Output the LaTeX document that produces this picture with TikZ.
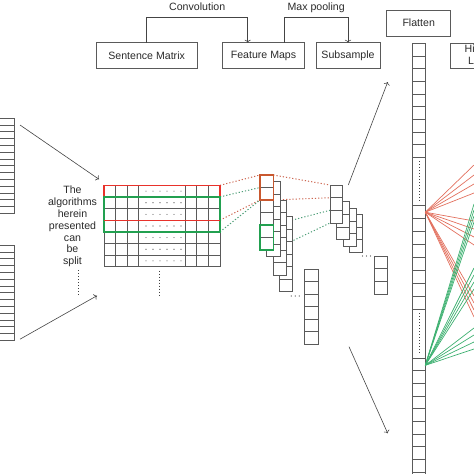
\documentclass[tikz,border=0pt]{standalone}
\usepackage{fontspec}
\setmainfont{Liberation Sans}
\usetikzlibrary{arrows.meta, positioning, calc, backgrounds}

\definecolor{linegray}{HTML}{5A5A5A}
\definecolor{textgray}{HTML}{2A2A2A}
\definecolor{arrowgray}{HTML}{444444}
\definecolor{matred}{HTML}{E8322B}
\definecolor{matgreen}{HTML}{22A050}
\definecolor{mapred}{HTML}{C9582F}
\definecolor{dotred}{HTML}{CC6650}
\definecolor{dotgreen}{HTML}{4E9E78}
\definecolor{fanred}{HTML}{E2705E}
\definecolor{fangreen}{HTML}{3DB070}

\tikzset{
  cellbox/.style={draw=linegray, line width=0.6pt, fill=white, outer sep=0pt, inner sep=0pt},
  cellline/.style={draw=linegray, line width=0.6pt},
  labelbox/.style={draw=linegray, line width=0.6pt, minimum height=25.6pt, inner sep=2pt, outer sep=0pt},
  steplabel/.style={above=1pt, text height=1.6ex, text depth=0.5ex},
  flowarrow/.style={->, draw=arrowgray, line width=0.6pt},
  reddots/.style={draw=dotred, line width=1pt, dash pattern=on 1.2pt off 2pt},
  greendots/.style={draw=dotgreen, line width=1pt, dash pattern=on 1.2pt off 2pt},
  redfan/.style={draw=fanred, line width=0.7pt},
  greenfan/.style={draw=fangreen, line width=0.7pt},
  vdots/.style={draw=black!75, line width=1pt, dash pattern=on 1pt off 2pt},
}

% name, left x, top y, width, cell height, cells
\newcommand{\cellcol}[6]{%
  \node[cellbox, minimum width=#4pt, minimum height={#5*#6*1pt}, anchor=north west] (#1) at (#2,#3) {};
  \pgfmathtruncatemacro{\lastcell}{#6-1}%
  \foreach \k in {1,...,\lastcell}
    \draw[cellline] ($(#1.north west)+(0,\k*#5)$) -- ++(#4,0);
}

\begin{document}
\begin{tikzpicture}[x=1pt, y=-1pt, font=\fontsize{10.6pt}{11.8pt}\selectfont, text=textgray]
    \useasboundingbox (0,0) rectangle (474,474);
    \clip (0,0) rectangle (474,474);

    \node[labelbox, minimum width=101.3pt] (sentmat) at (146.65,55.5) {Sentence Matrix};
    \node[labelbox, minimum width=81.6pt, right=25.4pt of sentmat] (featmap) {Feature Maps};
    \node[labelbox, minimum width=64pt, right=11.7pt of featmap] (subsamp) {Subsample};
    \node[labelbox, minimum width=64pt] (flatlbl) at (418.7,23.2) {Flatten};
    \node[labelbox, minimum width=61.6pt, minimum height=25pt, inner sep=1.5pt, align=center] (hidden) at (481.5,55.5) {Hidden\\Layer};

    \draw[flowarrow] (sentmat.north) -- ++(0,-25) -| node[pos=0.25, steplabel] {Convolution} ([xshift=-15.8pt]featmap.north);
    \draw[flowarrow] ([xshift=20.8pt]featmap.north) -- ++(0,-25) -| node[pos=0.25, steplabel] {Max pooling} (subsamp.north);

    \cellcol{inputtop}{-1}{118}{15}{6.8}{14}
    \cellcol{inputbot}{-1}{245}{15}{6.8}{14}

    \node[align=center] (sentence) at (72.5,226.5) {The\\algorithms\\herein\\presented\\can\\be\\split};
    \coordinate (textdots) at (78.7,270);
    \draw[vdots] (textdots) -- ++(0,26);

    \node[cellbox, fill=none, anchor=north west, minimum width=116pt, minimum height=81.4pt] (mat) at (104,185.3) {};
    \foreach \x in {11.6,23.1,34.6,81,92.6,104.3}
        \draw[cellline] ($(mat.north west)+(\x,0)$) -- ($(mat.south west)+(\x,0)$);
    \foreach \k in {1,...,6}
        \draw[cellline] ($(mat.north west)+(0,\k*11.63)$) -- ++(116,0);
    \foreach \r in {0,...,6}
        \foreach \d in {0,...,5}
            \fill[black!75] ($(mat.north west)+(42+7*\d,5.8+\r*11.63)$) circle (0.6);
    \draw[vdots] ($(mat.south west)+(55.3,4)$) -- ++(0,26);

    \draw[matred, line width=1.4pt] (mat.north west) rectangle ($(mat.north east)+(0,34.9)$);
    \draw[matgreen, line width=1.4pt] ($(mat.north west)+(0,11.6)$) rectangle ($(mat.north east)+(0,46.5)$);
    \draw[matred, line width=1.4pt] ($(mat.north west)+(0,34.9)$) -- ++(116,0);

    \draw[flowarrow] ($(inputtop.north east)+(6,7)$) -- ($(mat.north west)+(-5,-6)$);
    \draw[flowarrow] ($(inputbot.south east)+(6,-1)$) -- ($(mat.south west)+(-7,29)$);

    \cellcol{fm4}{279.3}{216.7}{13.3}{12.5}{6}
    \cellcol{fm3}{273.3}{200}{13.3}{12.5}{6}
    \cellcol{fm2}{266.7}{181.7}{13.3}{12.5}{6}
    \cellcol{fm1}{260}{175}{13.3}{12.5}{6}
    \cellcol{fm5}{304.7}{269}{13.3}{12.5}{6}
    \foreach \d in {0,1,2}
        \fill[black!75] ($(fm4.south east)+(-1.3+4*\d,4.3)$) circle (0.6);

    \draw[mapred, line width=1.4pt] (fm1.north west) rectangle ($(fm1.north east)+(0,25)$);
    \draw[matgreen, line width=1.4pt] ($(fm1.north west)+(0,50)$) rectangle (fm1.south east);

    \cellcol{ss4}{349.3}{214.3}{12.7}{12.67}{3}
    \cellcol{ss3}{343.3}{208.3}{12.7}{12.67}{3}
    \cellcol{ss2}{336.7}{201.7}{12.7}{12.67}{3}
    \cellcol{ss1}{330}{185}{12.7}{12.67}{3}
    \cellcol{ss5}{374.3}{256}{12.7}{12.67}{3}
    \foreach \d in {0,1,2}
        \fill[black!75] ($(ss4.south east)+(0.5+4*\d,3.7)$) circle (0.6);

    \begin{scope}[on background layer]
        \draw[reddots] (mat.north east) -- (fm1.north west);
        \draw[reddots] ($(mat.north east)+(0,34.9)$) -- ($(fm1.north west)+(0,25)$);
        \draw[greendots] ($(mat.north east)+(0,11.6)$) -- ($(fm1.north west)+(0,12.5)$);
        \draw[greendots] ($(mat.north east)+(0,46.5)$) -- ($(fm1.north west)+(0,25)$);

        \draw[reddots] (fm1.north east) -- (ss1.north west);
        \draw[reddots] ($(fm1.north east)+(0,25)$) -- ($(ss1.north west)+(0,12.7)$);
        \draw[greendots] ($(fm1.north east)+(0,50)$) -- ($(ss1.north west)+(0,25.3)$);
        \draw[greendots] (fm1.south east) -- (ss1.south west);
    \end{scope}

    \node[cellbox, anchor=north west, minimum width=12.6pt, minimum height=450pt] (flat) at (412.7,43.3) {};
    \foreach \k in {1,...,9}
        \draw[cellline] ($(flat.north west)+(0,\k*12.67)$) -- ++(12.6,0);
    \foreach \k in {0,...,8}
        \draw[cellline] ($(flat.north west)+(0,162.4+\k*12.91)$) -- ++(12.6,0);
    \foreach \k in {0,...,10}
        \draw[cellline] ($(flat.north west)+(0,314.7+\k*12.67)$) -- ++(12.6,0);
    \draw[vdots] ($(flat.north west)+(6.3,118)$) -- ++(0,41);
    \draw[vdots] ($(flat.north west)+(6.3,270)$) -- ++(0,41);

    \draw[flowarrow] ($(ss1.north east)+(5.6,0)$) -- ($(flat.north west)+(-25,38.7)$);
    \draw[flowarrow] ($(ss5.south west)+(-25.3,52.7)$) -- ($(flat.north west)+(-25,390)$);

    \coordinate (redsrc) at ($(flat.north east)+(0,168.9)$);
    \coordinate (greensrc) at ($(flat.north east)+(0,322)$);
    \foreach \y [count=\i] in {165,175,184,193,221,229,237,245,296,303,310,317} {
        \coordinate (redend\i) at (474,\y);
        \draw[redfan] (redsrc) -- (redend\i);
    }
    \foreach \y [count=\i] in {204,210,216,222,268,275,282,289,328,335,342,349} {
        \coordinate (greenend\i) at (474,\y);
        \draw[greenfan] (greensrc) -- (greenend\i);
    }

\end{tikzpicture}
\end{document}
